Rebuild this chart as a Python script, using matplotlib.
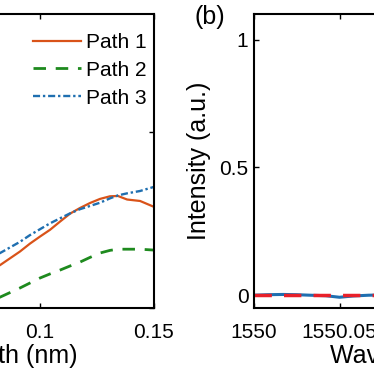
import matplotlib.pyplot as plt
import numpy as np

plt.rcParams['font.family'] = ['Liberation Sans', 'DejaVu Sans']

# panel (a) data
xa = [0.075, 0.0825, 0.0912, 0.0956, 0.1, 0.1044, 0.1088, 0.1132, 0.1175, 0.1219,
      0.1263, 0.1307, 0.1342, 0.1382, 0.1439, 0.15]
path1 = [0.115, 0.146, 0.192, 0.219, 0.243, 0.266, 0.294, 0.321, 0.340, 0.357,
         0.371, 0.380, 0.381, 0.369, 0.364, 0.344]
path2 = [0.015, 0.037, 0.068, 0.085, 0.102, 0.116, 0.129, 0.143, 0.156, 0.172,
         0.187, 0.196, 0.2, 0.2, 0.2, 0.197]
path3 = [0.16, 0.187, 0.225, 0.248, 0.268, 0.288, 0.305, 0.322, 0.336, 0.347,
         0.358, 0.373, 0.383, 0.39, 0.398, 0.412]
labels_a = ["Path 1", "Path 2", "Path 3"]

# panel (b) data
xb = [1550.0, 1550.008, 1550.017, 1550.025, 1550.033, 1550.042, 1550.05, 1550.058, 1550.067, 1550.075, 1550.085]
blue_b = [0.0, 0.002, 0.003, 0.002, 0.0, -0.002, -0.008, -0.003, 0.0, 0.001, 0.0]
red_x = [1550.0, 1550.085]
red_b = [0.0, 0.0]

W = 374.0
fig = plt.figure(figsize=(3.74, 3.74), dpi=100)

def box(l, r, t, b):
    return [l / W, 1 - b / W, (r - l) / W, (b - t) / W]

axA = fig.add_axes(box(-188, 154, 14, 308))
axB = fig.add_axes(box(254, 596, 14, 308))

for ax in (axA, axB):
    for s in ax.spines.values():
        s.set_linewidth(1.5)
    ax.tick_params(direction='in', length=3.5, width=1, top=True, right=True,
                   labelsize=15, pad=11)
    ax.tick_params(axis='y', pad=4)

axA.plot(xa, path1, '-', color='#D95319', lw=1.6, label=labels_a[0])
axA.plot(xa, path2, '--', color='#1E8A1E', lw=2.0, dashes=(4.5, 3.5), label=labels_a[1])
axA.plot(xa, path3, '-.', color='#1F6FB0', lw=1.7, dashes=(3, 1.2, 1, 1.2), label=labels_a[2])
axA.set_xlim(0, 0.15)
axA.set_ylim(0, 1)
axA.set_xticks([0, 0.05, 0.1, 0.15])
axA.set_xticklabels(["0", "0.05", "0.1", "0.15"])
axA.set_yticks([0, 0.6])
axA.set_xlabel("Wavelength (nm)", fontsize=18, labelpad=1)
axA.legend(loc='upper left', bbox_to_anchor=(33 / W, 1 - 33 / W), bbox_transform=fig.transFigure,
           frameon=False, fontsize=15, handlelength=2.3, handletextpad=0.25,
           labelspacing=0.42, borderpad=0, borderaxespad=0)

axB.plot(xb, blue_b, '-', color='#1F6FB0', lw=2.2)
axB.plot(red_x, red_b, '--', color='#E8202A', lw=2.5, dashes=(5, 3.5))
axB.set_xlim(1550, 1550.2)
axB.set_ylim(-0.05, 1.1)
axB.set_xticks([1550, 1550.05, 1550.1, 1550.15, 1550.2])
axB.set_xticklabels(["1550", "1550.05", "1550.1", "1550.15", "1550.2"])
axB.set_yticks([0, 0.5, 1])
axB.set_yticklabels(["0", "0.5", "1"])
axB.set_xlabel("Wavelength (nm)", fontsize=18, labelpad=1)
axB.set_ylabel("Intensity (a.u.)", fontsize=18, labelpad=6)

fig.text(194 / W, 1 - 17 / W, "(b)", fontsize=18, va='center', ha='left')

fig.savefig("out.png", dpi=100)
